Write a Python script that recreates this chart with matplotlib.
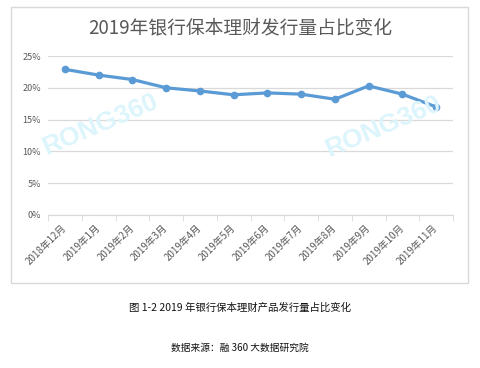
import matplotlib
matplotlib.use('Agg')
import matplotlib.pyplot as plt
from matplotlib.patches import Rectangle

plt.rcParams['font.family'] = ['Noto Sans CJK SC', 'DejaVu Sans']

# data
months = ['2018年12月', '2019年1月', '2019年2月', '2019年3月', '2019年4月', '2019年5月',
          '2019年6月', '2019年7月', '2019年8月', '2019年9月', '2019年10月', '2019年11月']
share = [22.9, 22.0, 21.3, 20.0, 19.5, 18.9, 19.2, 19.0, 18.2, 20.3, 19.0, 17.0]
yticks = [0, 5, 10, 15, 20, 25]

gray = '#595959'
blue = '#5b9bd5'

fig = plt.figure(figsize=(4.8, 3.68), dpi=100)

# chart frame
fig.patches.append(Rectangle((11/480, 1-283/368), 457/480, 276/368, transform=fig.transFigure,
                             fill=False, edgecolor='#d9d9d9', linewidth=1))

ax = fig.add_axes([48/480, 1-215/368, 405/480, 159/368])
x = list(range(len(months)))
ax.plot(x, share, color=blue, linewidth=2.3, marker='o', markersize=4.5, zorder=3)

ax.set_xlim(-0.5, len(months)-0.5)
ax.set_ylim(0, 25)
ax.set_yticks(yticks)
ax.set_yticklabels([str(v) + '%' for v in yticks], fontsize=6.5, color=gray)
ax.tick_params(axis='y', length=0, pad=5)
ax.grid(axis='y', color='#d9d9d9', linewidth=0.9)
ax.set_axisbelow(True)

ax.set_xticks(x)
ax.set_xticklabels(months, fontsize=7, color=gray, rotation=45, ha='right', va='center', rotation_mode='anchor')
ax.set_xticks([i - 0.5 for i in range(len(months)+1)], minor=True)
ax.tick_params(axis='x', which='major', length=0, pad=8)
ax.tick_params(axis='x', which='minor', length=4, color='#d9d9d9', direction='out')

for s in ['top', 'right', 'left']:
    ax.spines[s].set_visible(False)
ax.spines['bottom'].set_color('#d9d9d9')

# watermark
for wx, wy in [(100/480, 1-124/368), (383/480, 1-126/368)]:
    fig.text(wx, wy, 'RONG360', fontsize=19, color='#dcf5fc', rotation=23, ha='center', va='center',
             family='Liberation Sans', weight='bold', zorder=0)

fig.text(0.5, 1-28/368, '2019年银行保本理财发行量占比变化', fontsize=13.5, color=gray, ha='center', va='center')
fig.text(0.5, 1-308/368, '图 1-2 2019 年银行保本理财产品发行量占比变化', fontsize=7.5, color='#111111',
         ha='center', va='center', weight='medium')
fig.text(0.5, 1-348/368, '数据来源：融 360 大数据研究院', fontsize=7, color='#111111',
         ha='center', va='center', weight='medium')

fig.savefig('out.png', dpi=100)
